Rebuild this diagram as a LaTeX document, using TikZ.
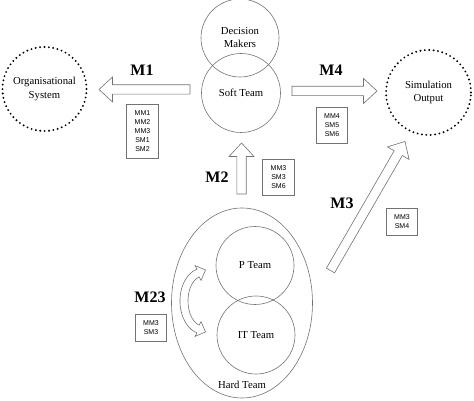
\documentclass[tikz,border=0pt]{standalone}
\usepackage{fontspec}
\setmainfont{Liberation Serif}
\setsansfont{Liberation Sans}
\usepackage{tikz}
\usetikzlibrary{shapes,arrows,positioning,calc}

\begin{document}
\begin{tikzpicture}[x=1pt, y=1pt,
    line/.style={draw=black!55, line width=0.6pt},
    team/.style={line, circle, align=center, inner sep=0pt, font=\fontsize{10.7}{13}\selectfont},
    dotcircle/.style={circle, draw=black, line width=2.1pt, dash pattern=on 0pt off 4.4pt, line cap=round, align=center, inner sep=0pt, font=\fontsize{10.7}{13.5}\selectfont},
    mlabel/.style={font=\fontsize{16}{16}\selectfont\bfseries},
    mbox/.style={line, align=center, inner xsep=2pt, inner ysep=6.5pt, minimum width=31.5pt, font=\fontsize{7}{9}\selectfont\sffamily},
    blockarrow/.pic={\draw[line, fill=white] (0,-4.7) -- (#1-13.5,-4.7) -- (#1-13.5,-12.5) -- (#1,0) -- (#1-13.5,12.5) -- (#1-13.5,4.7) -- (0,4.7) -- cycle;}
  ]
    \useasboundingbox (0,0) rectangle (474,401);

    % organisational system
    \node[dotcircle, minimum size=84pt] (orgsys) at (44.5,312) {Organisational\\System};

    % decision makers and soft team
    \node[team, minimum size=78pt] (decision) at (240,363) {Decision\\Makers};
    \node[team, minimum size=79pt] (softteam) at (241,308) {Soft Team};

    % simulation output
    \node[dotcircle, minimum size=85pt] (simout) at (428.5,308.5) {Simulation\\Output};

    % hard team
    \node[line, ellipse, minimum width=141pt, minimum height=190pt] (hardteam) at (242,98) {};
    \node[font=\fontsize{10.7}{13}\selectfont] (hardlbl) at (242,16) {Hard Team};
    \node[team, minimum size=78pt] (pteam) at (255,135.5) {P Team};
    \node[team, minimum size=78pt] (itteam) at (256,66) {IT Team};

    % block arrows
    \pic[rotate=180] at (190,311.5) {blockarrow=91};
    \pic at (292,310) {blockarrow=85};
    \pic[rotate=90] at (241.5,207) {blockarrow=51};
    \pic[rotate=60] at (330.5,130.5) {blockarrow=149};

    % curved arrow between P team and IT team
    \draw[line, fill=white] (205.5,131) -- (195.1,135.4) -- (197.0,131.9)
        arc[start angle=105, end angle=255, x radius=23, y radius=33]
        -- (195.1,64.6) -- (205.5,69) -- (201.1,79.4) -- (199.1,75.85)
        arc[start angle=255, end angle=105, x radius=15, y radius=25]
        -- (201.1,120.6) -- cycle;

    % labels
    \node[mlabel] (m1) at (142,331) {M1};
    \node[mlabel] (m4) at (331,331) {M4};
    \node[mlabel] (m2) at (217,224) {M2};
    \node[mlabel] (m3) at (342,198) {M3};
    \node[mlabel] (m23) at (150,104) {M23};

    % model lists
    \node[mbox] (boxm1) at (142.5,270) {MM1\\MM2\\MM3\\SM1\\SM2};
    \node[mbox] (boxm4) at (332,276) {MM4\\SM5\\SM6};
    \node[mbox] (boxm2) at (278.5,223.5) {MM3\\SM3\\SM6};
    \node[mbox] (boxm3) at (402,179) {MM3\\SM4};
    \node[mbox] (boxm23) at (151,73.5) {MM3\\SM3};
\end{tikzpicture}
\end{document}
